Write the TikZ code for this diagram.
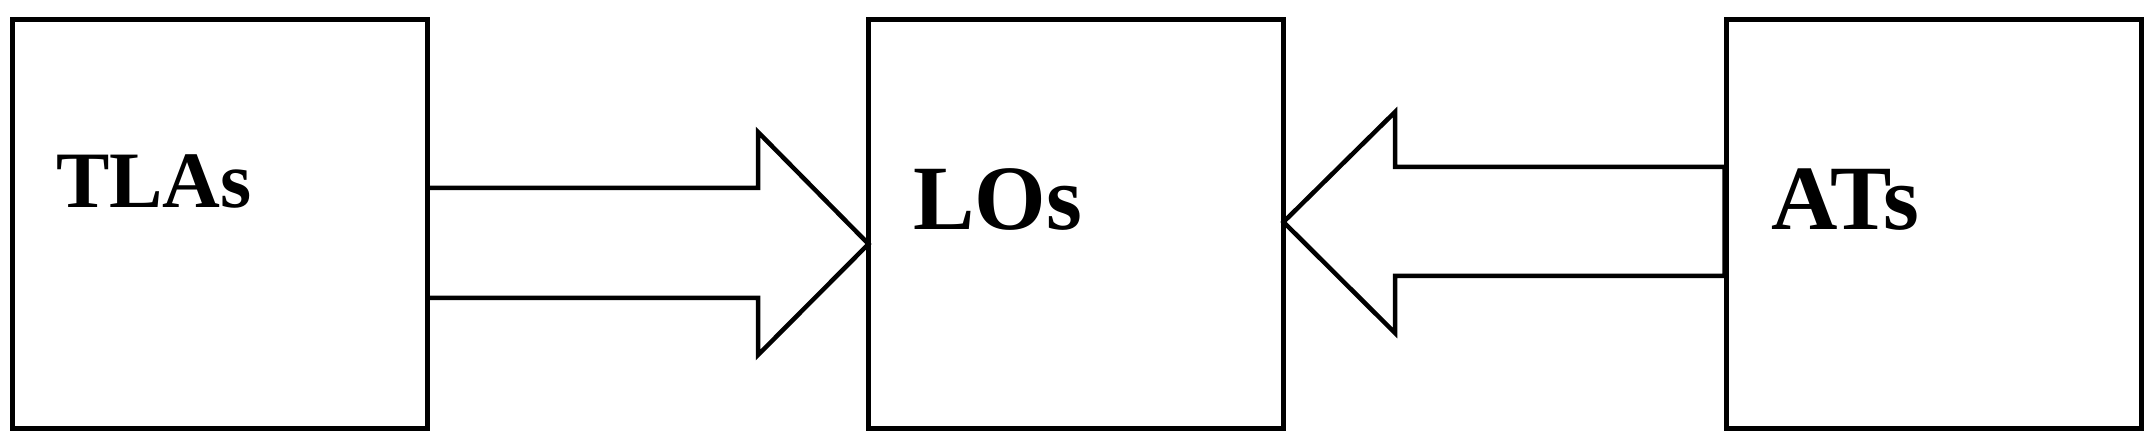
\documentclass[tikz,border=0pt]{standalone}
\usepackage{fontspec}
\setmainfont{Liberation Serif}[BoldFont={Liberation Serif Bold}]
\begin{document}
\begin{tikzpicture}[x=1pt,y=-1pt,
  box/.style={draw,line width=5pt,minimum width=415pt,minimum height=409pt,inner sep=0pt,outer sep=0pt},
  lbl/.style={anchor=base west,inner sep=0pt},
  blockarrow/.style={draw,line width=4.5pt,line join=miter}]
\useasboundingbox (0,0) rectangle (2144,438);
\node[box] (tla) at (219.5,224) {};
\node[box] (lo) at (1076,224) {};
\node[box] (at) at (1934,224) {};
\node[lbl,font=\fontsize{80}{81}\selectfont\bfseries] (tlat) at (56,208) {TLAs};
\node[lbl,font=\fontsize{92}{93}\selectfont\bfseries] (lot) at (913,230) {LOs};
\node[lbl,font=\fontsize{92}{93}\selectfont\bfseries] (att) at (1771,230) {ATs};
\draw[blockarrow] (tla.east |- 0,188) -- (758,188) -- (758,132) -- (lo.west |- 0,244) -- (758,355) -- (758,298) -- (tla.east |- 0,298);
\coordinate (atend) at ([xshift=-2pt]at.west);
\draw[blockarrow] (atend |- 0,167) -- (1395,167) -- (1395,112) -- (lo.east |- 0,222) -- (1395,333) -- (1395,276) -- (atend |- 0,276) -- cycle;
\end{tikzpicture}
\end{document}
